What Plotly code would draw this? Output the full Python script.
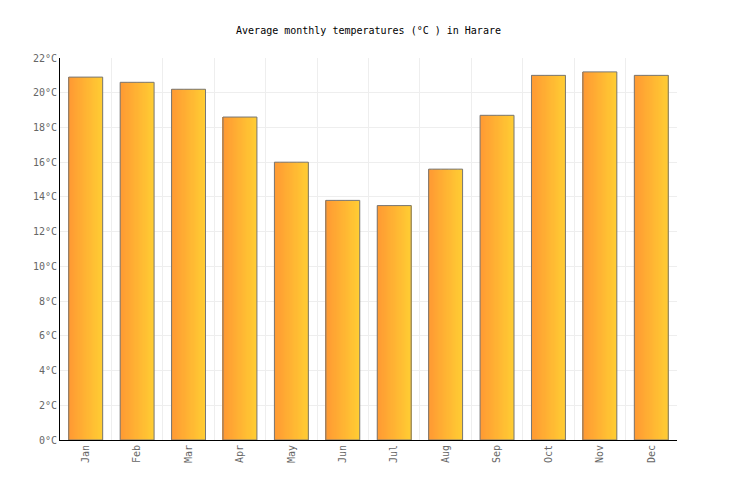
import plotly.graph_objects as go

months = ["Jan", "Feb", "Mar", "Apr", "May", "Jun",
          "Jul", "Aug", "Sep", "Oct", "Nov", "Dec"]
temps = [20.9, 20.6, 20.2, 18.6, 16.0, 13.8, 13.5, 15.6, 18.7, 21.0, 21.2, 21.0]

# horizontal gradient inside each bar, built from thin overlaid bar slices
bar_w = 0.66
n_slices = 30
left_rgb = (255, 153, 51)
right_rgb = (255, 204, 51)

fig = go.Figure()
for i in range(n_slices):
    t = i / (n_slices - 1)
    r = round(left_rgb[0] + (right_rgb[0] - left_rgb[0]) * t)
    g = round(left_rgb[1] + (right_rgb[1] - left_rgb[1]) * t)
    b = round(left_rgb[2] + (right_rgb[2] - left_rgb[2]) * t)
    fig.add_trace(go.Bar(
        x=months, y=temps,
        width=bar_w / n_slices * 1.05,
        offset=-bar_w / 2 + i * bar_w / n_slices,
        marker=dict(color=f"rgb({r},{g},{b})", line=dict(width=0)),
        hoverinfo="skip", showlegend=False,
    ))

# outline
fig.add_trace(go.Bar(
    x=months, y=temps, width=bar_w, offset=-bar_w / 2,
    marker=dict(color="rgba(0,0,0,0)", line=dict(color="#777777", width=1)),
    showlegend=False,
))

# page has an 8px body margin, so the margins are shifted by 8px
font = "DejaVu Sans Mono"
fig.update_layout(
    width=736, height=500,
    barmode="overlay",
    plot_bgcolor="white", paper_bgcolor="white",
    margin=dict(l=52, r=67, t=50, b=68),
    title=dict(text="Average monthly temperatures (°C ) in Harare",
               x=(52 + 669) / 2 / 736, xanchor="center", y=1 - 22 / 500, yanchor="middle",
               font=dict(family=font, size=10, color="#000000")),
    font=dict(family=font, size=10, color="#666666"),
)
fig.update_xaxes(
    tickson="boundaries", showgrid=True, gridcolor="#eeeeee",
    showline=True, linecolor="#000000", linewidth=1,
    ticks="", tickangle=-90, tickfont=dict(family=font, size=10, color="#666666"),
)
fig.update_yaxes(
    range=[0, 22], dtick=2, ticksuffix="°C",
    showgrid=True, gridcolor="#eeeeee", zeroline=False,
    showline=True, linecolor="#000000", linewidth=1,
    ticks="", tickfont=dict(family=font, size=10, color="#666666"),
)

fig.write_html("out.html")
